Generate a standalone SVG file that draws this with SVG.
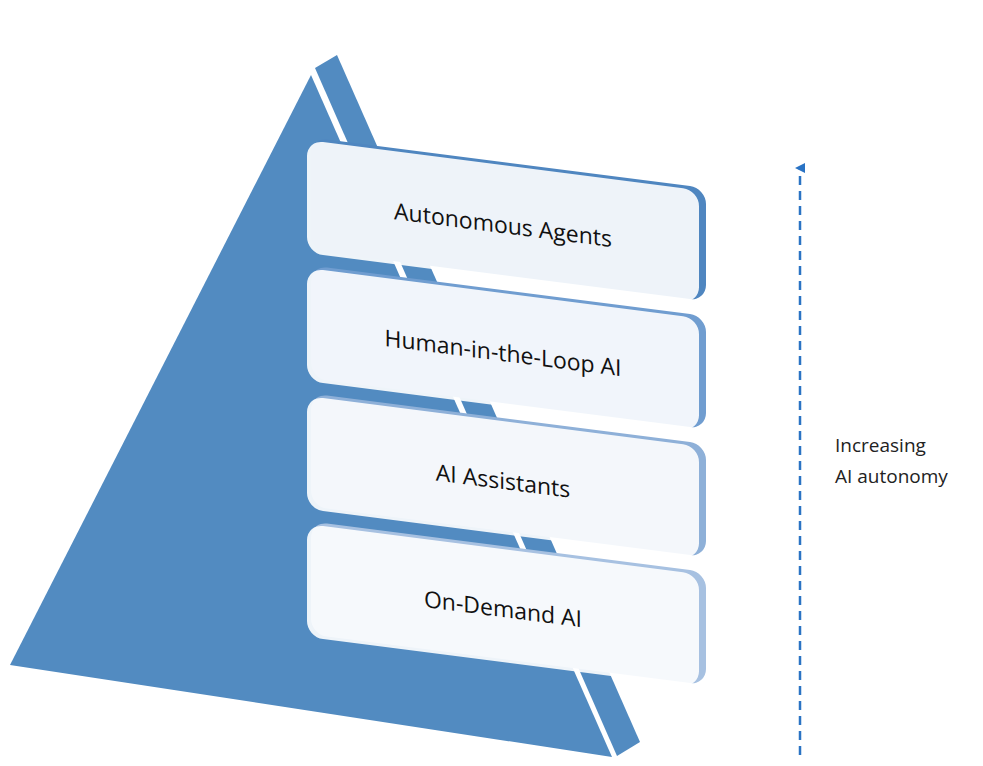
<svg xmlns="http://www.w3.org/2000/svg" width="983" height="766" viewBox="0 0 983 766">
<defs>
<style>
.pyr{fill:#528BC1}
.front{fill:#FFFFFF;fill-opacity:0.9}
.lbl{font-family:"Open Sans","Liberation Sans",sans-serif;font-size:23px;fill:#111;text-anchor:middle}
.side{font-family:"Open Sans","Liberation Sans",sans-serif;font-size:19px;fill:#222}
</style>
<marker id="ah" markerWidth="10" markerHeight="10" refX="5" refY="5" orient="auto" markerUnits="userSpaceOnUse"><path d="M0,10 L5,0 L10,10 Z" fill="#2A73C4"/></marker>
</defs>
<g id="pyramid">
<polygon class="pyr" points="311,75 10,665 612,757"/>
<polygon class="pyr" points="315,68 337,55 640,742 617,756"/>
</g>
<g id="box-on-demand" transform="translate(307,524) skewY(7.3)">
<rect x="4" y="-3" width="395" height="113" rx="16" fill="#A7C1E1"/>
<rect class="front" x="0" y="0" width="392" height="113" rx="16"/>
<text class="lbl" x="196" y="68">On-Demand AI</text>
</g>
<g id="box-assistants" transform="translate(307,396) skewY(7.3)">
<rect x="4" y="-3" width="395" height="113" rx="16" fill="#8EB0D8"/>
<rect class="front" x="0" y="0" width="392" height="113" rx="16"/>
<text class="lbl" x="196" y="68">AI Assistants</text>
</g>
<g id="box-hitl" transform="translate(307,268) skewY(7.3)">
<rect x="4" y="-3" width="395" height="113" rx="16" fill="#709DD0"/>
<rect class="front" x="0" y="0" width="392" height="113" rx="16"/>
<text class="lbl" x="196" y="68">Human-in-the-Loop AI</text>
</g>
<g id="box-autonomous" transform="translate(307,140) skewY(7.3)">
<rect x="4" y="-3" width="395" height="113" rx="16" fill="#4F86C0"/>
<rect class="front" x="0" y="0" width="392" height="113" rx="16"/>
<text class="lbl" x="196" y="68">Autonomous Agents</text>
</g>
<g id="connectors">
<line x1="800" y1="755" x2="800" y2="168" stroke="#2A73C4" stroke-width="2.5" stroke-dasharray="9,6" marker-end="url(#ah)"/>
</g>
<g id="label-autonomy">
<text class="side" x="835" y="452">Increasing</text>
<text class="side" x="835" y="483">AI autonomy</text>
</g>
</svg>
